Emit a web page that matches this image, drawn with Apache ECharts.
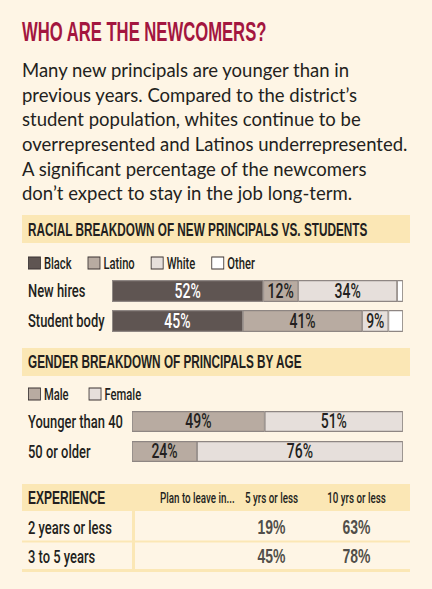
<!DOCTYPE html>
<html><head><meta charset="utf-8">
<script src="https://cdn.jsdelivr.net/npm/echarts@6/dist/echarts.min.js"></script>
<style>
html,body{margin:0;padding:0;background:#fef5e5;overflow:hidden;width:432px;height:589px;}
#c{width:617px;height:589px;transform:scaleX(0.7);transform-origin:0 0;}
</style>
</head><body><div id="c"></div>
<script>
const raceCategories = ['New hires', 'Student body'];
const raceNames = ['Black', 'Latino', 'White', 'Other'];
const blackVals = [52, 45];
const latinoVals = [12, 41];
const whiteVals = [34, 9];
const otherVals = [2, 5];

const ageCategories = ['Younger than 40', '50 or older'];
const genderNames = ['Male', 'Female'];
const maleVals = [49, 24];
const femaleVals = [51, 76];

const expRows = ['2 years or less', '3 to 5 years'];
const expCols = ['5 yrs or less', '10 yrs or less'];
const leave5 = [19, 45];
const leave10 = [63, 78];

// The page is drawn 1/0.7 wider and squeezed back by CSS to get a condensed type look.
const S = 0.7;
const X = v => v / S;
const COND = "'Liberation Sans',Arial,sans-serif";
const LAB = "Roboto,'Liberation Sans',sans-serif";
const LW = 500;
const BODY = "Lato,'Open Sans',sans-serif";
const TXT = '#231f20';
const BAND = '#fbe7b5';
const BORDER = '#8e8683';
const colors = {Black:'#5f5552', Latino:'#b8aba1', White:'#e6dfdb', Other:'#ffffff', Male:'#b8aba1', Female:'#e6dfdb'};

const chart = echarts.init(document.getElementById('c'), null, {renderer:'svg'});

function barSeries(name, data, xi, labelColor, showLabel, bw) {
  return {
    type:'bar', name, data, stack:'s'+xi, xAxisIndex:xi, yAxisIndex:xi,
    barWidth:bw,
    itemStyle:{color:colors[name], borderColor:BORDER, borderWidth:1.2},
    label:{show:showLabel, position:'inside', formatter:'{c}%', color:labelColor, fontFamily:LAB, fontWeight:LW, fontSize:20},
    emphasis:{disabled:true}, silent:true
  };
}

const bodyLines = [
  'Many new principals are younger than in',
  'previous years. Compared to the district\u2019s',
  'student population, whites continue to be',
  'overrepresented and Latinos underrepresented.',
  'A significant percentage of the newcomers',
  'don\u2019t expect to stay in the job long-term.'
];

function txt(x, y, text, font, sx) {
  return {type:'text', x:X(x), y:y, scaleX:sx || 1, style:{text, font, fill:TXT, verticalAlign:'middle'}};
}

const graphics = [
  {type:'text', x:X(22), y:31, scaleX:0.85, style:{text:'WHO ARE THE NEWCOMERS?', font:"bold 28px "+COND, fill:'#a3163f', verticalAlign:'middle'}},
  {type:'text', x:X(22), y:58, scaleX:1/S, style:{text:bodyLines.join('\n'), font:"18.5px "+BODY, fill:TXT, lineHeight:24.6}},
  {type:'rect', shape:{x:X(22), y:215, width:X(388), height:28}, style:{fill:BAND}},
  txt(28, 229.5, 'RACIAL BREAKDOWN OF NEW PRINCIPALS VS. STUDENTS', "bold 17.7px "+COND, 0.95),
  {type:'rect', shape:{x:X(22), y:348, width:X(388), height:28}, style:{fill:BAND}},
  txt(28, 362, 'GENDER BREAKDOWN OF PRINCIPALS BY AGE', "bold 17.7px "+COND, 0.95),
  {type:'rect', shape:{x:X(22), y:484, width:X(388), height:27}, style:{fill:BAND}},
  txt(28, 497.5, 'EXPERIENCE', "bold 17.7px "+COND, 0.97),
  txt(160, 498, 'Plan to leave in...', LW + " 14px "+LAB),
  {type:'rect', shape:{x:X(132), y:511, width:X(3), height:59}, style:{fill:BAND}},
  {type:'rect', shape:{x:X(22), y:540.5, width:X(388), height:2}, style:{fill:BAND}},
  {type:'rect', shape:{x:X(22), y:569, width:X(388), height:3}, style:{fill:BAND}}
];

const legendBase = {
  orient:'horizontal', icon:'rect', itemWidth:X(12), itemHeight:12,
  textStyle:{fontFamily:LAB, fontWeight:LW, fontSize:16, color:TXT},
  itemStyle:{borderColor:'#3a3333', borderWidth:1.2}, selectedMode:false, padding:0
};

chart.setOption({
  animation:false,
  backgroundColor:'#fef5e5',
  graphic:graphics,
  legend:[
    Object.assign({}, legendBase, {left:X(28), top:255, itemGap:X(16), data:raceNames}),
    Object.assign({}, legendBase, {left:X(28), top:386, itemGap:X(20), data:genderNames})
  ],
  grid:[
    {left:X(112), right:X(29), top:276, height:60},
    {left:X(132), right:X(29), top:406.5, height:60},
    {left:X(229), width:X(170), top:513, height:58}
  ],
  xAxis:[
    {type:'value', gridIndex:0, min:0, max:100, show:false},
    {type:'value', gridIndex:1, min:0, max:100, show:false},
    {type:'category', gridIndex:2, data:expCols, position:'top', axisLine:{show:false}, axisTick:{show:false},
     axisLabel:{interval:0, margin:8, fontFamily:LAB, fontWeight:LW, fontSize:14, color:TXT}}
  ],
  yAxis:[
    {type:'category', gridIndex:0, data:raceCategories, inverse:true, axisLine:{show:false}, axisTick:{show:false},
     axisLabel:{align:'left', margin:X(84), fontFamily:LAB, fontWeight:LW, fontSize:18.5, color:TXT}},
    {type:'category', gridIndex:1, data:ageCategories, inverse:true, axisLine:{show:false}, axisTick:{show:false},
     axisLabel:{align:'left', margin:X(104), fontFamily:LAB, fontWeight:LW, fontSize:18.5, color:TXT}},
    {type:'category', gridIndex:2, data:expRows, inverse:true, axisLine:{show:false}, axisTick:{show:false},
     axisLabel:{align:'left', margin:X(201), fontFamily:LAB, fontWeight:LW, fontSize:18.5, color:TXT}}
  ],
  series:[
    barSeries('Black', blackVals, 0, '#ffffff', true, 22),
    barSeries('Latino', latinoVals, 0, TXT, true, 22),
    barSeries('White', whiteVals, 0, TXT, true, 22),
    barSeries('Other', otherVals, 0, TXT, false, 22),
    barSeries('Male', maleVals, 1, TXT, true, 21),
    barSeries('Female', femaleVals, 1, TXT, true, 21),
    {
      type:'scatter', xAxisIndex:2, yAxisIndex:2, symbolSize:1, itemStyle:{color:'rgba(0,0,0,0)'}, silent:true,
      data: expRows.flatMap((r, i) => [[0, i, leave5[i]], [1, i, leave10[i]]]),
      label:{show:true, position:'inside', formatter:p => p.value[2] + '%', fontFamily:COND, fontWeight:'bold', fontSize:20, color:TXT}
    }
  ]
});
</script></body></html>
